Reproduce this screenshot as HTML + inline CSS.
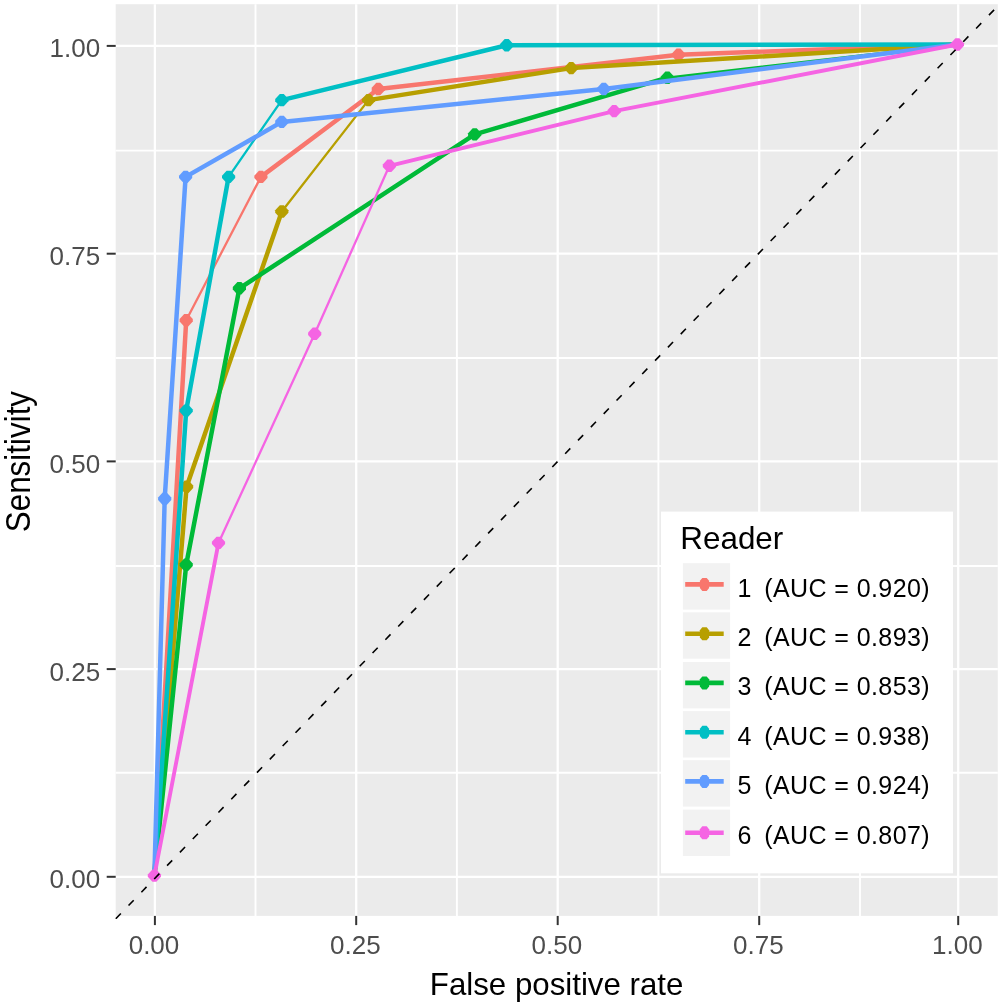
<!DOCTYPE html>
<html><head><meta charset="utf-8"><title>ROC curves by reader</title>
<style>html,body{margin:0;padding:0;background:#fff;}svg{display:block;}text{font-family:"Liberation Sans",sans-serif;}</style></head><body>
<svg width="1004" height="1008" viewBox="0 0 1004 1008">
<rect x="0" y="0" width="1004" height="1008" fill="#ffffff"/>
<rect x="115.7" y="4.2" width="882.1" height="911.7" fill="#EBEBEB"/>
<defs><clipPath id="pc"><rect x="115.7" y="4.2" width="882.1" height="913.7"/></clipPath><clipPath id="pd"><rect x="115.2" y="4.2" width="882.6" height="914.9"/></clipPath></defs>
<g stroke="#ffffff" fill="none">
<line x1="154.9" y1="4.2" x2="154.9" y2="915.9" stroke-width="2.3"/>
<line x1="115.7" y1="876.8" x2="997.8" y2="876.8" stroke-width="2.3"/>
<line x1="255.5" y1="4.2" x2="255.5" y2="915.9" stroke-width="1.9"/>
<line x1="115.7" y1="772.7" x2="997.8" y2="772.7" stroke-width="1.9"/>
<line x1="356.2" y1="4.2" x2="356.2" y2="915.9" stroke-width="2.3"/>
<line x1="115.7" y1="669.1" x2="997.8" y2="669.1" stroke-width="2.3"/>
<line x1="456.9" y1="4.2" x2="456.9" y2="915.9" stroke-width="1.9"/>
<line x1="115.7" y1="566.0" x2="997.8" y2="566.0" stroke-width="1.9"/>
<line x1="557.7" y1="4.2" x2="557.7" y2="915.9" stroke-width="2.3"/>
<line x1="115.7" y1="461.4" x2="997.8" y2="461.4" stroke-width="2.3"/>
<line x1="658.4" y1="4.2" x2="658.4" y2="915.9" stroke-width="1.9"/>
<line x1="115.7" y1="358.0" x2="997.8" y2="358.0" stroke-width="1.9"/>
<line x1="759.2" y1="4.2" x2="759.2" y2="915.9" stroke-width="2.3"/>
<line x1="115.7" y1="253.7" x2="997.8" y2="253.7" stroke-width="2.3"/>
<line x1="860.0" y1="4.2" x2="860.0" y2="915.9" stroke-width="1.9"/>
<line x1="115.7" y1="150.6" x2="997.8" y2="150.6" stroke-width="1.9"/>
<line x1="958.2" y1="4.2" x2="958.2" y2="915.9" stroke-width="2.3"/>
<line x1="115.7" y1="45.9" x2="997.8" y2="45.9" stroke-width="2.3"/>
</g>
<g fill="none" stroke-linecap="round" clip-path="url(#pc)">
<line x1="154.4" y1="875.6" x2="186.2" y2="320.3" stroke="#F8766D" stroke-width="4.5"/>
<line x1="186.2" y1="320.3" x2="260.9" y2="176.9" stroke="#F8766D" stroke-width="2.3"/>
<line x1="260.9" y1="176.9" x2="378.3" y2="89.0" stroke="#F8766D" stroke-width="4.5"/>
<line x1="378.3" y1="89.0" x2="678.5" y2="54.7" stroke="#F8766D" stroke-width="4.5"/>
<line x1="678.5" y1="54.7" x2="957.4" y2="44.5" stroke="#F8766D" stroke-width="4.5"/>
<polygon points="184.2,314.1 188.2,314.1 192.8,319.1 192.8,321.5 188.2,326.5 184.2,326.5 179.6,321.5 179.6,319.1" fill="#F8766D"/>
<polygon points="258.9,170.7 262.9,170.7 267.5,175.7 267.5,178.1 262.9,183.1 258.9,183.1 254.3,178.1 254.3,175.7" fill="#F8766D"/>
<polygon points="376.3,82.8 380.3,82.8 384.9,87.8 384.9,90.2 380.3,95.2 376.3,95.2 371.7,90.2 371.7,87.8" fill="#F8766D"/>
<polygon points="676.5,48.5 680.5,48.5 685.1,53.5 685.1,55.9 680.5,60.9 676.5,60.9 671.9,55.9 671.9,53.5" fill="#F8766D"/>
<line x1="154.4" y1="875.6" x2="186.6" y2="486.7" stroke="#B79F00" stroke-width="4.5"/>
<line x1="186.6" y1="486.7" x2="281.8" y2="211.5" stroke="#B79F00" stroke-width="4.5"/>
<line x1="281.8" y1="211.5" x2="368.5" y2="100.1" stroke="#B79F00" stroke-width="2.3"/>
<line x1="368.5" y1="100.1" x2="571.2" y2="68.1" stroke="#B79F00" stroke-width="4.5"/>
<line x1="571.2" y1="68.1" x2="957.4" y2="44.5" stroke="#B79F00" stroke-width="4.5"/>
<polygon points="184.6,480.5 188.6,480.5 193.2,485.5 193.2,487.9 188.6,492.9 184.6,492.9 180.0,487.9 180.0,485.5" fill="#B79F00"/>
<polygon points="279.8,205.3 283.8,205.3 288.4,210.3 288.4,212.7 283.8,217.7 279.8,217.7 275.2,212.7 275.2,210.3" fill="#B79F00"/>
<polygon points="366.5,93.9 370.5,93.9 375.1,98.9 375.1,101.3 370.5,106.3 366.5,106.3 361.9,101.3 361.9,98.9" fill="#B79F00"/>
<polygon points="569.2,61.9 573.2,61.9 577.8,66.9 577.8,69.3 573.2,74.3 569.2,74.3 564.6,69.3 564.6,66.9" fill="#B79F00"/>
<line x1="154.4" y1="875.6" x2="186.2" y2="564.7" stroke="#00BA38" stroke-width="4.5"/>
<line x1="186.2" y1="564.7" x2="239.4" y2="288.3" stroke="#00BA38" stroke-width="4.5"/>
<line x1="239.4" y1="288.3" x2="474.7" y2="134.4" stroke="#00BA38" stroke-width="4.5"/>
<line x1="474.7" y1="134.4" x2="667.4" y2="77.7" stroke="#00BA38" stroke-width="4.5"/>
<line x1="667.4" y1="77.7" x2="957.4" y2="44.5" stroke="#00BA38" stroke-width="2.6"/>
<polygon points="184.2,558.5 188.2,558.5 192.8,563.5 192.8,565.9 188.2,570.9 184.2,570.9 179.6,565.9 179.6,563.5" fill="#00BA38"/>
<polygon points="237.4,282.1 241.4,282.1 246.0,287.1 246.0,289.5 241.4,294.5 237.4,294.5 232.8,289.5 232.8,287.1" fill="#00BA38"/>
<polygon points="472.7,128.2 476.7,128.2 481.3,133.2 481.3,135.6 476.7,140.6 472.7,140.6 468.1,135.6 468.1,133.2" fill="#00BA38"/>
<polygon points="665.4,71.5 669.4,71.5 674.0,76.5 674.0,78.9 669.4,83.9 665.4,83.9 660.8,78.9 660.8,76.5" fill="#00BA38"/>
<line x1="154.4" y1="875.6" x2="186.2" y2="410.6" stroke="#00BFC4" stroke-width="4.5"/>
<line x1="186.2" y1="410.6" x2="228.6" y2="176.9" stroke="#00BFC4" stroke-width="4.5"/>
<line x1="228.6" y1="176.9" x2="281.8" y2="100.1" stroke="#00BFC4" stroke-width="2.3"/>
<line x1="281.8" y1="100.1" x2="506.7" y2="45.3" stroke="#00BFC4" stroke-width="4.5"/>
<line x1="506.7" y1="45.3" x2="957.4" y2="44.5" stroke="#00BFC4" stroke-width="4.5"/>
<polygon points="184.2,404.4 188.2,404.4 192.8,409.4 192.8,411.8 188.2,416.8 184.2,416.8 179.6,411.8 179.6,409.4" fill="#00BFC4"/>
<polygon points="226.6,170.7 230.6,170.7 235.2,175.7 235.2,178.1 230.6,183.1 226.6,183.1 222.0,178.1 222.0,175.7" fill="#00BFC4"/>
<polygon points="279.8,93.9 283.8,93.9 288.4,98.9 288.4,101.3 283.8,106.3 279.8,106.3 275.2,101.3 275.2,98.9" fill="#00BFC4"/>
<polygon points="504.7,39.1 508.7,39.1 513.3,44.1 513.3,46.5 508.7,51.5 504.7,51.5 500.1,46.5 500.1,44.1" fill="#00BFC4"/>
<line x1="154.4" y1="875.6" x2="164.7" y2="498.7" stroke="#619CFF" stroke-width="4.5"/>
<line x1="164.7" y1="498.7" x2="185.6" y2="176.9" stroke="#619CFF" stroke-width="4.5"/>
<line x1="185.6" y1="176.9" x2="281.8" y2="121.9" stroke="#619CFF" stroke-width="4.5"/>
<line x1="281.8" y1="121.9" x2="603.8" y2="89.0" stroke="#619CFF" stroke-width="4.5"/>
<line x1="603.8" y1="89.0" x2="957.4" y2="44.5" stroke="#619CFF" stroke-width="4.5"/>
<polygon points="162.7,492.5 166.7,492.5 171.3,497.5 171.3,499.9 166.7,504.9 162.7,504.9 158.1,499.9 158.1,497.5" fill="#619CFF"/>
<polygon points="183.6,170.7 187.6,170.7 192.2,175.7 192.2,178.1 187.6,183.1 183.6,183.1 179.0,178.1 179.0,175.7" fill="#619CFF"/>
<polygon points="279.8,115.7 283.8,115.7 288.4,120.7 288.4,123.1 283.8,128.1 279.8,128.1 275.2,123.1 275.2,120.7" fill="#619CFF"/>
<polygon points="601.8,82.8 605.8,82.8 610.4,87.8 610.4,90.2 605.8,95.2 601.8,95.2 597.2,90.2 597.2,87.8" fill="#619CFF"/>
<line x1="154.4" y1="875.6" x2="218.5" y2="542.9" stroke="#F564E3" stroke-width="3.9"/>
<line x1="218.5" y1="542.9" x2="314.7" y2="333.8" stroke="#F564E3" stroke-width="2.3"/>
<line x1="314.7" y1="333.8" x2="389.4" y2="165.8" stroke="#F564E3" stroke-width="2.3"/>
<line x1="389.4" y1="165.8" x2="614.2" y2="111.1" stroke="#F564E3" stroke-width="3.9"/>
<line x1="614.2" y1="111.1" x2="957.4" y2="44.5" stroke="#F564E3" stroke-width="3.9"/>
<polygon points="152.4,869.4 156.4,869.4 161.0,874.4 161.0,876.8 156.4,881.8 152.4,881.8 147.8,876.8 147.8,874.4" fill="#F564E3"/>
<polygon points="216.5,536.7 220.5,536.7 225.1,541.7 225.1,544.1 220.5,549.1 216.5,549.1 211.9,544.1 211.9,541.7" fill="#F564E3"/>
<polygon points="312.7,327.6 316.7,327.6 321.3,332.6 321.3,335.0 316.7,340.0 312.7,340.0 308.1,335.0 308.1,332.6" fill="#F564E3"/>
<polygon points="387.4,159.6 391.4,159.6 396.0,164.6 396.0,167.0 391.4,172.0 387.4,172.0 382.8,167.0 382.8,164.6" fill="#F564E3"/>
<polygon points="612.2,104.9 616.2,104.9 620.8,109.9 620.8,112.3 616.2,117.3 612.2,117.3 607.6,112.3 607.6,109.9" fill="#F564E3"/>
<polygon points="955.4,38.3 959.4,38.3 964.0,43.3 964.0,45.7 959.4,50.7 955.4,50.7 950.8,45.7 950.8,43.3" fill="#F564E3"/>
</g>
<line x1="115.7" y1="918.8" x2="997.8" y2="6.0" stroke="#000" stroke-width="1.6" stroke-dasharray="7.4 11.08" clip-path="url(#pd)"/>
<rect x="661" y="511.6" width="292" height="361.7" fill="#ffffff"/>
<text x="680.3" y="549.4" font-size="31.4" fill="#000">Reader</text>
<rect x="682.9" y="563.2" width="47.2" height="46.4" fill="#F2F2F2"/>
<line x1="685.2" y1="584.4" x2="723.7" y2="584.4" stroke="#F8766D" stroke-width="4.6"/>
<polygon points="702.3,577.9 706.7,577.9 709.1,580.8 709.1,588.0 706.7,590.9 702.3,590.9 699.9,588.0 699.9,580.8" fill="#F8766D"/>
<text x="737.6" y="596.9" font-size="25" fill="#000">1</text>
<text x="764.2" y="596.9" font-size="25" fill="#000" textLength="165.4" lengthAdjust="spacing">(AUC = 0.920)</text>
<rect x="682.9" y="612.3" width="47.2" height="46.4" fill="#F2F2F2"/>
<line x1="685.2" y1="633.8" x2="723.7" y2="633.8" stroke="#B79F00" stroke-width="4.6"/>
<polygon points="702.3,627.3 706.7,627.3 709.1,630.2 709.1,637.4 706.7,640.3 702.3,640.3 699.9,637.4 699.9,630.2" fill="#B79F00"/>
<text x="737.6" y="646.3" font-size="25" fill="#000">2</text>
<text x="764.2" y="646.3" font-size="25" fill="#000" textLength="165.4" lengthAdjust="spacing">(AUC = 0.893)</text>
<rect x="682.9" y="662.0" width="47.2" height="46.4" fill="#F2F2F2"/>
<line x1="685.2" y1="682.9" x2="723.7" y2="682.9" stroke="#00BA38" stroke-width="4.6"/>
<polygon points="702.3,676.4 706.7,676.4 709.1,679.3 709.1,686.5 706.7,689.4 702.3,689.4 699.9,686.5 699.9,679.3" fill="#00BA38"/>
<text x="737.6" y="695.4" font-size="25" fill="#000">3</text>
<text x="764.2" y="695.4" font-size="25" fill="#000" textLength="165.4" lengthAdjust="spacing">(AUC = 0.853)</text>
<rect x="682.9" y="711.1" width="47.2" height="46.4" fill="#F2F2F2"/>
<line x1="685.2" y1="732.3" x2="723.7" y2="732.3" stroke="#00BFC4" stroke-width="4.6"/>
<polygon points="702.3,725.8 706.7,725.8 709.1,728.7 709.1,735.9 706.7,738.8 702.3,738.8 699.9,735.9 699.9,728.7" fill="#00BFC4"/>
<text x="737.6" y="744.6" font-size="25" fill="#000">4</text>
<text x="764.2" y="744.6" font-size="25" fill="#000" textLength="165.4" lengthAdjust="spacing">(AUC = 0.938)</text>
<rect x="682.9" y="760.2" width="47.2" height="46.4" fill="#F2F2F2"/>
<line x1="685.2" y1="781.4" x2="723.7" y2="781.4" stroke="#619CFF" stroke-width="4.6"/>
<polygon points="702.3,774.9 706.7,774.9 709.1,777.8 709.1,785.0 706.7,787.9 702.3,787.9 699.9,785.0 699.9,777.8" fill="#619CFF"/>
<text x="737.6" y="794.4" font-size="25" fill="#000">5</text>
<text x="764.2" y="794.4" font-size="25" fill="#000" textLength="165.4" lengthAdjust="spacing">(AUC = 0.924)</text>
<rect x="682.9" y="809.6" width="47.2" height="46.4" fill="#F2F2F2"/>
<line x1="685.2" y1="832.8" x2="723.7" y2="832.8" stroke="#F564E3" stroke-width="4.6"/>
<polygon points="702.3,826.3 706.7,826.3 709.1,829.2 709.1,836.4 706.7,839.3 702.3,839.3 699.9,836.4 699.9,829.2" fill="#F564E3"/>
<text x="737.6" y="844.4" font-size="25" fill="#000">6</text>
<text x="764.2" y="844.4" font-size="25" fill="#000" textLength="165.4" lengthAdjust="spacing">(AUC = 0.807)</text>
<g stroke="#333333" stroke-width="2">
<line x1="154.9" y1="915.9" x2="154.9" y2="925.1"/>
<line x1="106.7" y1="876.8" x2="115.7" y2="876.8"/>
<line x1="356.2" y1="915.9" x2="356.2" y2="925.1"/>
<line x1="106.7" y1="669.1" x2="115.7" y2="669.1"/>
<line x1="557.7" y1="915.9" x2="557.7" y2="925.1"/>
<line x1="106.7" y1="461.4" x2="115.7" y2="461.4"/>
<line x1="759.2" y1="915.9" x2="759.2" y2="925.1"/>
<line x1="106.7" y1="253.7" x2="115.7" y2="253.7"/>
<line x1="958.2" y1="915.9" x2="958.2" y2="925.1"/>
<line x1="106.7" y1="45.9" x2="115.7" y2="45.9"/>
</g>
<text x="154.0" y="954.4" font-size="26" fill="#4D4D4D" text-anchor="middle">0.00</text>
<text x="100.2" y="888.3" font-size="26" fill="#4D4D4D" text-anchor="end">0.00</text>
<text x="355.3" y="954.4" font-size="26" fill="#4D4D4D" text-anchor="middle">0.25</text>
<text x="100.2" y="680.6" font-size="26" fill="#4D4D4D" text-anchor="end">0.25</text>
<text x="556.8" y="954.4" font-size="26" fill="#4D4D4D" text-anchor="middle">0.50</text>
<text x="100.2" y="472.9" font-size="26" fill="#4D4D4D" text-anchor="end">0.50</text>
<text x="758.3" y="954.4" font-size="26" fill="#4D4D4D" text-anchor="middle">0.75</text>
<text x="100.2" y="265.2" font-size="26" fill="#4D4D4D" text-anchor="end">0.75</text>
<text x="957.3" y="954.4" font-size="26" fill="#4D4D4D" text-anchor="middle">1.00</text>
<text x="100.2" y="57.4" font-size="26" fill="#4D4D4D" text-anchor="end">1.00</text>
<text x="556.6" y="994.7" font-size="31.25" fill="#000" text-anchor="middle">False positive rate</text>
<text transform="translate(30.3,461.6) rotate(-90) scale(1,1.12)" font-size="31.4" fill="#000" text-anchor="middle">Sensitivity</text>
</svg></body></html>
